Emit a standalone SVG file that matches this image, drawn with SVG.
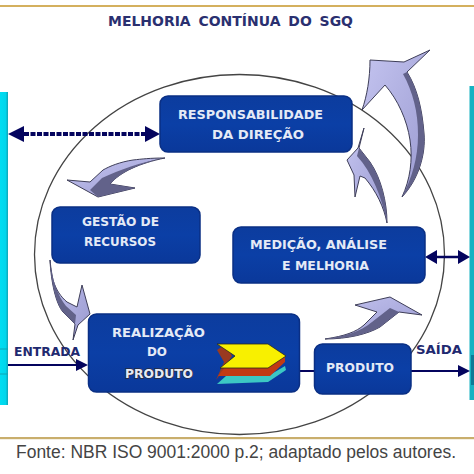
<svg xmlns="http://www.w3.org/2000/svg" width="474" height="474" viewBox="0 0 474 474">
<defs>
<linearGradient id="bx" x1="0" y1="0" x2="0" y2="1"><stop offset="0" stop-color="#0c3c9e"/><stop offset="0.5" stop-color="#0b3fa6"/><stop offset="1" stop-color="#0a389a"/></linearGradient>
<linearGradient id="bar" x1="0" y1="0" x2="1" y2="0"><stop offset="0" stop-color="#00def2"/><stop offset="0.7" stop-color="#00d6ec"/><stop offset="1" stop-color="#0fa4b4"/></linearGradient>
<linearGradient id="ar" x1="0" y1="0" x2="1" y2="1"><stop offset="0" stop-color="#c4c4f0"/><stop offset="1" stop-color="#9a9ad0"/></linearGradient>
</defs>
<style>
.t{font-family:"DejaVu Sans",sans-serif;font-weight:700;font-size:12.8px;fill:#e4eaf6;text-anchor:start}
.n{fill:url(#bx);stroke:#0a2f84;stroke-width:1.5}
.l{font-family:"DejaVu Sans",sans-serif;font-weight:700;font-size:12.5px;fill:#1f2a70}
.a{fill:url(#ar);stroke:#3e3e58;stroke-width:1}
.s{fill:#62628a;stroke:none}
.c{stroke:#04045e;stroke-width:2;fill:none}
.h{fill:#04045e}
</style>
<rect width="474" height="474" fill="#fff"/>
<rect x="0" y="5" width="474" height="2" fill="#d4b05e"/>
<rect x="0" y="437" width="474" height="2.2" fill="#c9ae6c"/>
<text id="title" x="108" y="26" textLength="245" lengthAdjust="spacingAndGlyphs" style="font-family:'DejaVu Sans',sans-serif;font-weight:700;font-size:14px;fill:#2a3070;word-spacing:3px">MELHORIA CONTÍNUA DO SGQ</text>
<rect x="0" y="92" width="8" height="313" fill="url(#bar)"/>
<path d="M0 349H8M0 374H8" stroke="#0fa4b4" stroke-width="1"/>
<rect x="469.500" y="86" width="4.500" height="314" fill="#16b2c2"/>
<rect x="471" y="355" width="3" height="30" fill="#0c7a96"/>
<ellipse id="cycle" cx="239.500" cy="254.500" rx="205" ry="180" fill="none" stroke="#444" stroke-width="1.3"/>
<g id="connectors">
<path d="M24 134H146" stroke="#04045e" stroke-width="4" stroke-dasharray="5 1.500" fill="none"/>
<path class="h" d="M8 134L24 126V142Z"/>
<path class="h" d="M160 134L145 126V142Z"/>
<path class="h" d="M425 257L437 250V264ZM470 257L458 250V264Z"/>
<path d="M436 257H460" stroke="#04045e" stroke-width="2.500" fill="none"/>
<path d="M8 365H78" class="c"/><path class="h" d="M88 365L76 359V371Z"/>
<path d="M300 371H314" class="c"/>
<path d="M411 371H460" class="c"/><path class="h" d="M470 371L458 365V377Z"/>
<path class="a" d="M165 158C150 158 142 159 133 160C120 162 110 166 103 170L90 182L67 180L98 197L135 188L110 184C120 172 140 163 165 158Z"/>
<path class="s" d="M165 158C140 163 120 172 110 184L135 188L98 197L90 190L102 178C120 170 140 162 165 158Z"/>
<path class="a" d="M50 260C51 270 52 275 53 280C56 290 61 297 67 302L77 307L82 285L90 314L78 325L73 340L75 324L63 312C56 304 51 282 50 260Z"/>
<path class="s" d="M50 260C51 282 56 304 63 312L75 324L76 315L66 306C58 296 52 280 50 260Z"/>
<path class="a" d="M325 339C345 336 356 332 364 325L377 312L355 305L390 297L422 315L399 312L380 327C368 334 348 339 325 339Z"/>
<path class="s" d="M325 339C348 339 368 334 380 327L399 312L390 308L372 322C360 332 345 336 325 339Z"/>
<path class="a" d="M430 50L404 62L370 60C370 78 367 96 362 110L385 85C398 100 407 120 410 140C413 160 410 180 402 197C418 180 426 155 424 133C422 108 417 88 407 72Z"/>
<path class="s" d="M402 197C418 180 426 155 424 133C422 108 417 88 407 72L403 74C413 92 418 112 418 135C418 158 412 178 402 197Z"/>
<path class="a" d="M364 128L359 148L370 162C381 178 387 202 387 223C384 207 376 191 365 178L360 176L355 197L354 175L347 160L358 148Z"/>
<path class="s" d="M387 223C387 202 381 178 370 162L359 148L357 156C372 172 382 198 387 223Z"/>
</g>
<g id="responsabilidade"><rect class="n" x="160" y="96" width="192" height="56" rx="8"/><text class="t" x="178" y="119" textLength="145" lengthAdjust="spacingAndGlyphs">RESPONSABILIDADE</text><text class="t" x="212" y="139" textLength="92" lengthAdjust="spacingAndGlyphs">DA DIREÇÃO</text></g>
<g id="gestao"><rect class="n" x="52" y="207" width="148" height="56" rx="8"/><text class="t" x="82" y="226" textLength="77" lengthAdjust="spacingAndGlyphs">GESTÃO DE</text><text class="t" x="84" y="246" textLength="72" lengthAdjust="spacingAndGlyphs">RECURSOS</text></g>
<g id="medicao"><rect class="n" x="233" y="227" width="192" height="56" rx="8"/><text class="t" x="250" y="249" textLength="137" lengthAdjust="spacingAndGlyphs">MEDIÇÃO, ANÁLISE</text><text class="t" x="282" y="270" textLength="87" lengthAdjust="spacingAndGlyphs">E MELHORIA</text></g>
<g id="realizacao"><rect class="n" x="88.500" y="314" width="211" height="78" rx="8"/><text class="t" x="112" y="337" textLength="93" lengthAdjust="spacingAndGlyphs">REALIZAÇÃO</text><text class="t" x="147" y="356" textLength="20" lengthAdjust="spacingAndGlyphs">DO</text><text class="t" x="125" y="378" textLength="68" lengthAdjust="spacingAndGlyphs" style="stroke:#2a2a3a;stroke-width:1.500px;paint-order:stroke">PRODUTO</text>
<path d="M217 350L226 344L232 356L222 372L216 380L224 362Z" fill="#9a3a20"/>
<path d="M217 384L226 376H268L285 366L286 370L268 382Z" fill="#3cc8c4"/>
<path d="M218 376L226 366H268L285 357V362L270 376Z" fill="#c23a14"/>
<path d="M217 344H268L286 356L268 368H220L235 356Z" fill="#f8f000" stroke="#2a2a1a" stroke-width="0.800"/></g>
<g id="produto"><rect class="n" x="314.500" y="344" width="96.500" height="50" rx="8"/><text class="t" x="326" y="372" textLength="68" lengthAdjust="spacingAndGlyphs">PRODUTO</text></g>
<text class="l" x="14" y="356" textLength="66" lengthAdjust="spacingAndGlyphs">ENTRADA</text>
<text class="l" x="416" y="354" textLength="46" lengthAdjust="spacingAndGlyphs">SAÍDA</text>
<text x="16" y="458" textLength="440" lengthAdjust="spacingAndGlyphs" style="font-family:'Liberation Sans',Arial,sans-serif;font-size:17.500px;fill:#444">Fonte: NBR ISO 9001:2000 p.2; adaptado pelos autores.</text>
</svg>
